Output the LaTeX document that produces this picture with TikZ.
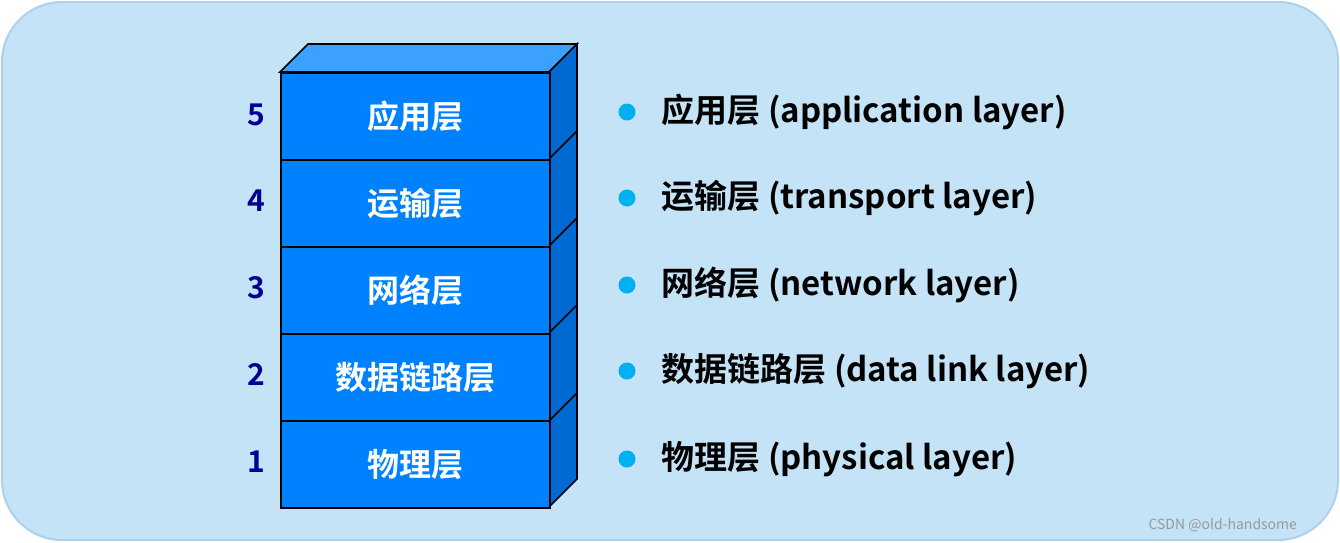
\documentclass[tikz,border=0pt]{standalone}
\usepackage{fontspec}
\setmainfont{Noto Sans CJK SC}
\newfontfamily\cjkb{Noto Sans CJK SC Bold}
\begin{document}
\begin{tikzpicture}[x=1pt,y=-1pt]
\definecolor{bg}{RGB}{197,227,247}
\definecolor{bgline}{RGB}{170,210,240}
\definecolor{front}{RGB}{0,130,255}
\definecolor{topc}{RGB}{60,160,255}
\definecolor{side}{RGB}{0,105,210}
\definecolor{num}{RGB}{0,0,150}
\definecolor{dot}{RGB}{0,176,240}
\tikzset{
 layer/.style={draw=black,line width=1.6pt,fill=front,minimum width=269pt,minimum height=87pt,anchor=north west,text=white,font=\cjkb\fontsize{32}{34}\selectfont,inner sep=0pt},
 numlab/.style={text=num,font=\cjkb\fontsize{30}{32}\selectfont},
 desc/.style={anchor=west,font=\cjkb\fontsize{33}{35}\selectfont},
 bullet/.style={circle,fill=dot,minimum size=17pt,inner sep=0pt}
}
\useasboundingbox (0,0) rectangle (1340,542);
\fill[white] (0,0) rectangle (1340,542);
\draw[fill=bg,draw=bgline,line width=2pt,rounded corners=60pt] (2,2) rectangle (1338,540);
\draw[fill=topc,line width=1.6pt] (280,72) -- (308,44) -- (577,44) -- (549,72) -- cycle;
\draw[fill=side,line width=1.6pt] (549,72) -- (577,44) -- (577,479) -- (549,507) -- cycle;
\foreach \yy in {159,246,333,421}{\draw[line width=1.6pt] (549,\yy) -- (577,\yy-28);}
\node[layer] (l5) at (280,72) {应用层};
\node[layer] (l4) at (280,159) {运输层};
\node[layer] (l3) at (280,246) {网络层};
\node[layer] (l2) at (280,333) {数据链路层};
\node[layer] (l1) at (280,420) {物理层};
\foreach \n/\t/\yy in {5/应用层 (application layer)/115,4/运输层 (transport layer)/201,3/网络层 (network layer)/288,2/数据链路层 (data link layer)/374,1/物理层 (physical layer)/462}{
 \node[numlab] (n\n) at (256,\yy) {\n};
 \node[bullet] (b\n) at (627,\yy-3) {};
 \node[desc] (d\n) at (658,\yy-3) {\t};
}
\begin{scope}
\clip (0,0) rectangle (1340,542);
\node[anchor=west,text=gray!80,font=\fontsize{14}{15}\selectfont] (wm) at (1145,525) {CSDN @old-handsome};
\end{scope}
\end{tikzpicture}
\end{document}
